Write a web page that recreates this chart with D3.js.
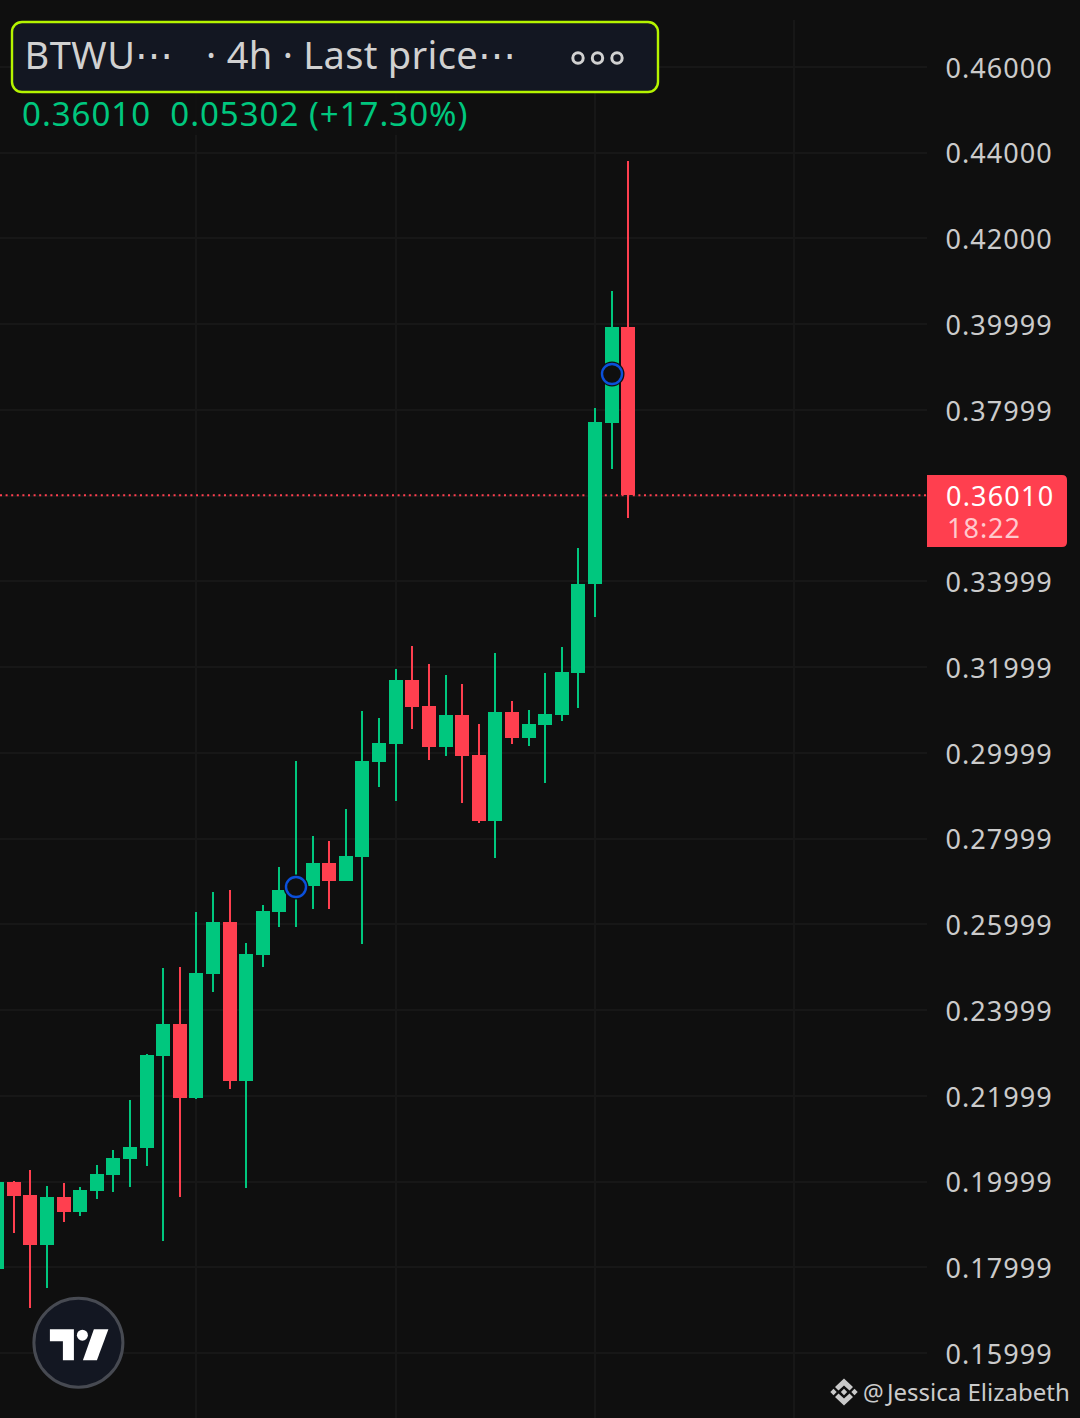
<!DOCTYPE html>
<html><head><meta charset="utf-8">
<script src="https://cdn.jsdelivr.net/npm/d3@7"></script>
<style>html,body{margin:0;padding:0;background:#0f0f0f}svg{display:block}text{font-family:"Noto Sans",sans-serif}</style>
</head><body><div id="chart"></div>
<script>
const openPrices=[.17959,.19988,.19685,.18518,.19638,.19288,.19778,.20151,.20525,.20781,.22928,.23674,.21948,.24841,.26054,.22344,.25284,.26287,.26800,.26894,.27430,.27010,.27570,.29786,.30206,.31699,.31093,.30136,.30883,.29950,.28410,.30953,.30346,.30650,.30883,.31863,.33939,.37695,.39934];
const closePrices=[.19988,.19662,.18518,.19638,.19288,.19802,.20175,.20548,.20805,.22951,.23674,.21948,.24864,.26054,.22344,.25307,.26310,.26800,.26894,.27430,.27010,.27593,.29810,.30230,.31699,.31069,.30136,.30883,.29926,.28410,.30953,.30346,.30673,.30906,.31886,.33939,.37718,.39934,.36010];
const highPrices=[.19988,.20011,.20268,.19895,.19965,.19872,.20385,.20735,.21901,.22974,.24981,.25004,.26287,.26754,.26800,.25564,.26450,.27337,.29810,.28060,.27943,.28690,.30976,.30813,.31956,.32493,.32073,.31816,.31606,.30673,.32329,.31209,.30999,.31863,.32469,.34779,.38045,.40774,.43807];
const lowPrices=[.17959,.18798,.17049,.17515,.19055,.19195,.19592,.19755,.19872,.20361,.18612,.19638,.21924,.24421,.22158,.19848,.25004,.25937,.25937,.26357,.26357,.27010,.25540,.29203,.28877,.30556,.29833,.29926,.28830,.28363,.27547,.30206,.30160,.29296,.30743,.31046,.33169,.36622,.35479];
const tickValues=[.46,.44,.42,.39999,.37999,.35999,.33999,.31999,.29999,.27999,.25999,.23999,.21999,.19999,.17999,.15999];
const hiddenTick=.35999;
const verticalGrid=[12,24,36,48];
const markerBars=[18,37];
const markerPrices=[.26870,.38838];
const lastPrice=.36010, countdown="18:22";
const titleParts=["BTWU⋯","· 4h · Last price⋯"];
const changeText="0.36010  0.05302 (+17.30%)";
const creditParts=["@","Jessica Elizabeth"];

const W=1080,H=1418,BG="#0f0f0f",GRID="#171717",UP="#00c77e",DOWN="#ff3f4f",TXT="#cbcbcb";
const svg=d3.select("#chart").append("svg").attr("width",W).attr("height",H).attr("viewBox",`0 0 ${W} ${H}`);
svg.append("rect").attr("width",W).attr("height",H).attr("fill",BG);
const x=d3.scaleLinear().domain([0,38]).range([-2.9,628.2]);
const y=d3.scaleLinear().domain([.46,.15999]).range([67,1353]);

// grid
const grid=svg.append("g").attr("shape-rendering","crispEdges");
grid.selectAll("line.h").data(tickValues).join("line").attr("class","h")
  .attr("x1",0).attr("x2",927).attr("y1",d=>Math.round(y(d))).attr("y2",d=>Math.round(y(d))).attr("stroke",GRID).attr("stroke-width",2);
grid.selectAll("line.v").data(verticalGrid).join("line").attr("class","v")
  .attr("x1",d=>Math.round(x(d))).attr("x2",d=>Math.round(x(d))).attr("y1",20).attr("y2",H).attr("stroke",GRID).attr("stroke-width",2);

// legend backdrop dims the grid behind the change text
svg.append("rect").attr("x",0).attr("y",92).attr("width",480).attr("height",43).attr("fill",BG).attr("fill-opacity",.8);

// axis labels
const axis=d3.axisRight(y).tickValues(tickValues.filter(t=>t!==hiddenTick)).tickSize(0).tickPadding(0).tickFormat(d3.format(".5f"));
const ag=svg.append("g").attr("transform","translate(945.5,0)").call(axis);
ag.select(".domain").remove();
ag.selectAll("text").attr("font-size",27).attr("letter-spacing",1.05).attr("fill",TXT).attr("font-family",'"Noto Sans",sans-serif').attr("dy","0.38em");

// price line
svg.append("line").attr("x1",0).attr("x2",927).attr("y1",y(lastPrice)).attr("y2",y(lastPrice))
  .attr("stroke",DOWN).attr("stroke-width",2).attr("stroke-dasharray","2 3.6");

// candles
const data=openPrices.map((o,i)=>({i,o,c:closePrices[i],h:highPrices[i],l:lowPrices[i]}));
const col=d=>d.c>=d.o?UP:DOWN;
const cg=svg.append("g").attr("shape-rendering","crispEdges");
cg.selectAll("rect.w").data(data).join("rect").attr("class","w")
  .attr("x",d=>Math.round(x(d.i))-1).attr("width",2)
  .attr("y",d=>y(d.h)).attr("height",d=>y(d.l)-y(d.h)).attr("fill",col);
cg.selectAll("rect.b").data(data).join("rect").attr("class","b")
  .attr("x",d=>Math.round(x(d.i))-7).attr("width",14)
  .attr("y",d=>y(Math.max(d.o,d.c))).attr("height",d=>Math.abs(y(d.o)-y(d.c))).attr("fill",col);

// markers
const mk=svg.append("g").selectAll("g").data(markerBars).join("g")
  .attr("transform",(d,i)=>`translate(${Math.round(x(d))},${y(markerPrices[i])})`);
mk.append("circle").attr("r",12.5).attr("fill","#0f0f0f");
mk.append("circle").attr("r",10).attr("fill","#0f0f0f").attr("stroke","#0b50da").attr("stroke-width",2.4);

// header pill
svg.append("rect").attr("x",12).attr("y",22).attr("width",646).attr("height",70).attr("rx",10)
  .attr("fill","#131722").attr("stroke","#b5f400").attr("stroke-width",2.4);
svg.append("text").attr("x",24.5).attr("y",68.5).attr("font-size",38).attr("letter-spacing",.5).attr("fill","#d1d1d1").text(titleParts[0]);
svg.append("text").attr("x",206).attr("y",68.5).attr("font-size",38).attr("letter-spacing",.3).attr("fill","#d1d1d1").text(titleParts[1]);
svg.selectAll("circle.dot").data([0,1,2]).join("circle").attr("class","dot")
  .attr("cx",d=>578+d*19.5).attr("cy",58).attr("r",5.2).attr("fill","none").attr("stroke","#d1d1d1").attr("stroke-width",3);
svg.append("text").attr("x",22).attr("y",126).attr("font-size",33).attr("letter-spacing",1).attr("fill",UP).style("white-space","pre").text(changeText);

// last price label
const ly=475,lh=72,lx=927,lw=140,r=5;
svg.append("path").attr("d",`M${lx},${ly}H${lx+lw-r}Q${lx+lw},${ly} ${lx+lw},${ly+r}V${ly+lh-r}Q${lx+lw},${ly+lh} ${lx+lw-r},${ly+lh}H${lx}Z`).attr("fill",DOWN);
svg.append("text").attr("x",946).attr("y",506).attr("font-size",27).attr("letter-spacing",1.2).attr("fill","#ffffff").text(d3.format(".5f")(lastPrice));
svg.append("text").attr("x",947).attr("y",538).attr("font-size",27).attr("letter-spacing",1).attr("fill","#ffc9cd").text(countdown);

// TradingView badge
const tv=svg.append("g").attr("transform","translate(78.4,1342.7)");
tv.append("circle").attr("r",44.5).attr("fill","#131722").attr("stroke","#474a52").attr("stroke-width",3);
const logo=tv.append("g").attr("fill","#ffffff");
logo.append("path").attr("d","M-28.5,-13.5H-4.5V17.5H-15.5V-1.5H-28.5Z");
logo.append("circle").attr("cx",4).attr("cy",-7.5).attr("r",5.5);
logo.append("path").attr("d","M15.5,-13.5H30L18.5,17.5H4.5Z");

// credit
const bn=svg.append("g").attr("transform","translate(844,1392)").attr("fill","#c9c9c9");
[[0,-8.5,7],[0,8.5,7],[-10.5,0,3.2],[10.5,0,3.2],[0,0,3.2]].forEach(([a,b,s])=>{
  if(s>5){
    const dir=b<0?-1:1;
    bn.append("path").attr("d",`M${a},${b+dir*5}L${a+9},${b-dir*3.5}L${a+5.5},${b-dir*7}L${a},${b+dir*-2}L${a-5.5},${b-dir*7}L${a-9},${b-dir*3.5}Z`);
  } else {
    bn.append("path").attr("d",`M${a},${b-s}L${a+s},${b}L${a},${b+s}L${a-s},${b}Z`);
  }
});
const ct=svg.append("text").attr("y",1401).attr("font-size",24).attr("fill",TXT);
ct.append("tspan").attr("x",863).attr("font-size",23).text(creditParts[0]);
ct.append("tspan").attr("x",887).text(creditParts[1]);
</script></body></html>
